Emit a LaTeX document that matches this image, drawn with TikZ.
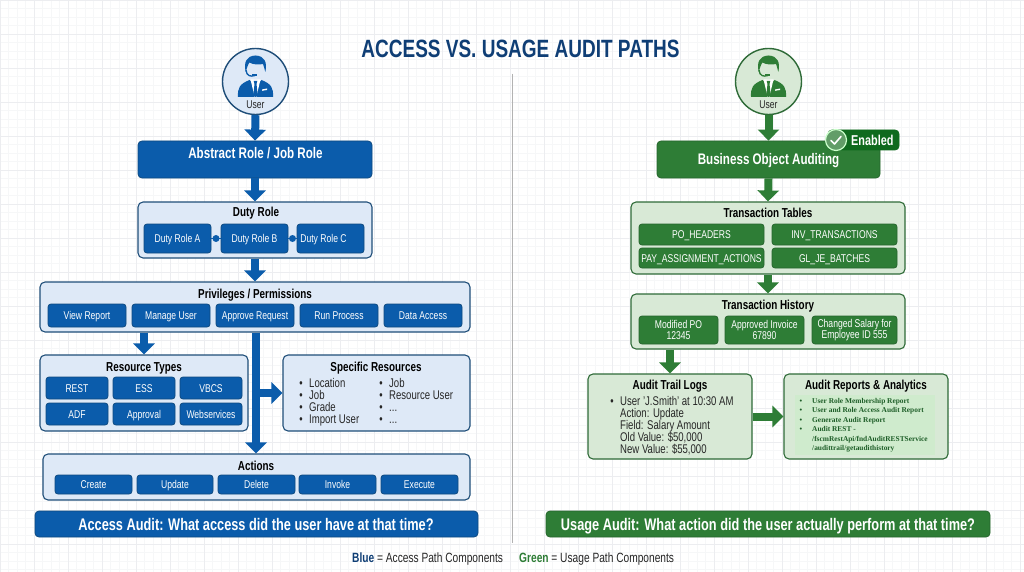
\documentclass[tikz,border=0pt]{standalone}
\usepackage{fontspec}
\setmainfont[FakeStretch=0.76]{Liberation Sans}
\newfontfamily\repfont{Liberation Serif}
\usetikzlibrary{arrows.meta,calc}
\definecolor{bluefill}{HTML}{0B5CAB}
\definecolor{blueedge}{HTML}{0E4A80}
\definecolor{bluepanel}{HTML}{DEE9F7}
\definecolor{blueline}{HTML}{1F4E79}
\definecolor{navy}{HTML}{0F3E75}
\definecolor{greenfill}{HTML}{2E7D36}
\definecolor{greenedge}{HTML}{27662E}
\definecolor{greenpanel}{HTML}{D8E9D6}
\definecolor{greenline}{HTML}{2F6B38}
\definecolor{greendark}{HTML}{0F6A1E}
\definecolor{reportbg}{HTML}{CFEBCD}
\definecolor{reporttext}{HTML}{1E5E28}
\definecolor{gridminor}{HTML}{F6F7F8}
\definecolor{gridmajor}{HTML}{ECEDF0}
\newcommand{\fs}[2]{\fontsize{#1}{#2}\selectfont}
\tikzset{
  x=1pt,y=-1pt,
  pillbase/.style={rounded corners=3pt,line width=0.8pt,inner sep=0pt,align=center,text=white,font=\fs{11.3}{11.7},text height=8.1pt,text depth=0pt},
  bluepill/.style={pillbase,fill=bluefill,draw=blueedge},
  greenpill/.style={pillbase,fill=greenfill,draw=greenedge},
  twolines/.style={text height={},text depth={}},
  bluepanelbox/.style={rounded corners=5pt,line width=1.1pt,fill=bluepanel,draw=blueline,inner sep=0pt},
  greenpanelbox/.style={rounded corners=5pt,line width=1.1pt,fill=greenpanel,draw=greenline,inner sep=0pt},
  heading/.style={font=\bfseries\fs{13}{14},text=black,inner sep=0pt,text height=9.4pt,text depth=0pt},
  bigtext/.style={font=\bfseries\fs{15.3}{17},text=white,inner sep=0pt,text height=11pt,text depth=0pt},
  bannertext/.style={font=\bfseries\fs{16.8}{18},text=white,inner sep=0pt,text height=12pt,text depth=0pt},
  listtext/.style={font=\fs{12.6}{12},text=black!85,align=left,inner sep=0pt,anchor=west},
  bluearrow/.style={line width=8pt,draw=bluefill,-{Triangle[width=21pt,length=11pt]}},
  greenarrow/.style={line width=8pt,draw=greenfill,-{Triangle[width=21pt,length=11pt]}},
  dotlink/.style={line width=1.6pt,draw=bluefill},
  linkdot/.style={circle,fill=bluefill,inner sep=0pt,minimum size=7pt},
}
% box from corners: style, name, x1, y1, x2, y2, text
\newcommand{\bx}[7]{%
  \pgfmathsetmacro{\bxw}{#5-#3}\pgfmathsetmacro{\bxh}{#6-#4}%
  \pgfmathsetmacro{\bxcx}{(#3+#5)/2}\pgfmathsetmacro{\bxcy}{(#4+#6)/2}%
  \node[#1,minimum width=\bxw pt,minimum height=\bxh pt] (#2) at (\bxcx,\bxcy) {#7};}
\newcommand{\itm}{\llap{\textbullet\hspace{6.5pt}}}
\newcommand{\usericon}[3]{% cx, main colour, panel colour
 \begin{scope}[shift={(#1,0)}]
  \fill[#2] (-17.5,97) .. controls (-18,88) and (-16,84) .. (-6,80) -- (0,86) -- (6,80) .. controls (16,84) and (18,88) .. (17.5,97) -- cycle;
  \fill[white] (-5,79.5) -- (5,79.5) -- (0.8,97) -- (-0.8,97) -- cycle;
  \fill[#2] (-1.8,81) -- (1.8,81) -- (1,84) -- (2.2,95) -- (0,97) -- (-2.2,95) -- (-1,84) -- cycle;
  \fill[white] (6.5,89.5) -- (11.5,88.5) -- (11.5,90) -- (6.5,90.8) -- cycle;
  \fill[#3] (-8,72) .. controls (-7,82) and (7,82) .. (8,72) -- (8,64) -- (-8,64) -- cycle;
  \draw[#2,line width=1.3pt] (-9.5,70) .. controls (-9,76) and (-5,77) .. (-0.5,75.5);
  \fill[#2] (-3.5,74.3) rectangle (1.5,76.3);
  \fill[#2] (-9.8,72) .. controls (-12,62) and (-9,56) .. (0,55.5) .. controls (9,56) and (12,62) .. (9.8,72)
     .. controls (8.8,69) and (8.6,66) .. (7.5,64) .. controls (3,65) and (-3,64.5) .. (-6,62.5)
     .. controls (-8,65) and (-8.8,69) .. (-9.8,72) -- cycle;
 \end{scope}}
\begin{document}
\begin{tikzpicture}
\useasboundingbox (0,0) rectangle (1024,572);
\fill[white] (0,0) rectangle (1024,572);
% graph paper
\foreach \gx in {0,8.5,...,1024} \draw[gridminor,line width=0.5pt] (\gx,0) -- (\gx,572);
\foreach \gy in {0,8.5,...,572} \draw[gridminor,line width=0.5pt] (0,\gy) -- (1024,\gy);
\foreach \gx in {0,34,...,1024} \draw[gridmajor,line width=0.5pt] (\gx,0) -- (\gx,572);
\foreach \gy in {0,34,...,572} \draw[gridmajor,line width=0.5pt] (0,\gy) -- (1024,\gy);
% title and divider
\node[font=\bfseries\fs{25}{27},text=navy,inner sep=0pt,text height=17.5pt,text depth=0pt] (title) at (520.5,48.5) {ACCESS VS. USAGE AUDIT PATHS};
\coordinate (divtop) at (512,74);
\coordinate (divbot) at (512,543);
\draw[black!30,line width=0.9pt] (divtop) -- (divbot);

% ===== LEFT: access path =====
\node[circle,draw=blueline,line width=1.4pt,fill=bluepanel,minimum size=66pt,inner sep=0pt] (userA) at (255.5,81.5) {};
\usericon{255.5}{bluefill}{bluepanel}
\node[font=\fs{11.3}{12},text=black!85,inner sep=0pt,text height=8.1pt,text depth=0pt] (userAtxt) at (255.5,104.5) {User};
\bx{bluepill,rounded corners=4pt}{abstract}{138}{141}{372}{178}{}
\node[bigtext] (abstractT) at (255.5,153) {Abstract Role / Job Role};

\bx{bluepanelbox}{duty}{138}{202}{372}{258}{}
\node[heading] (dutyT) at (256,212) {Duty Role};
\bx{bluepill}{dutyA}{144}{224}{211}{253}{Duty Role A}
\bx{bluepill}{dutyB}{221}{224}{288}{253}{Duty Role B}
\bx{bluepill}{dutyC}{297}{224}{364}{253}{\hspace*{-14pt}Duty Role C}
\draw[dotlink] (dutyA) -- (dutyB) node[midway,linkdot] (dotAB) {};
\draw[dotlink] (dutyB) -- (dutyC) node[midway,linkdot] (dotBC) {};

\bx{bluepanelbox}{priv}{40}{282}{470}{332}{}
\node[heading] (privT) at (255,294) {Privileges / Permissions};
\bx{bluepill}{pA}{48}{304}{126}{327}{View Report}
\bx{bluepill}{pB}{132}{304}{210}{327}{Manage User}
\bx{bluepill}{pC}{216}{304}{294}{327}{Approve Request}
\bx{bluepill}{pD}{300}{304}{378}{327}{Run Process}
\bx{bluepill}{pE}{384}{304}{462}{327}{Data Access}

\bx{bluepanelbox}{rtypes}{40}{355}{248}{431}{}
\node[heading] (rtypesT) at (144,367) {Resource Types};
\bx{bluepill}{r1}{46}{377}{108}{399}{REST}
\bx{bluepill}{r2}{113}{377}{175}{399}{ESS}
\bx{bluepill}{r3}{180}{377}{242}{399}{VBCS}
\bx{bluepill}{r4}{46}{403}{108}{425}{ADF}
\bx{bluepill}{r5}{113}{403}{175}{425}{Approval}
\bx{bluepill}{r6}{180}{403}{242}{425}{Webservices}

\bx{bluepanelbox}{spec}{283}{355}{470}{431}{}
\node[heading] (specT) at (376,367) {Specific Resources};
\node[listtext] (specL) at (309,402) {\itm Location\\\itm Job\\\itm Grade\\\itm Import User};
\node[listtext] (specR) at (389,402) {\itm Job\vphantom{L}\\\itm Resource User\\\itm ...\\\itm ...\vphantom{p}};

\bx{bluepanelbox}{actions}{43}{454}{470}{500}{}
\node[heading] (actionsT) at (256,466) {Actions};
\bx{bluepill}{a1}{55}{475}{132}{494}{Create}
\bx{bluepill}{a2}{137}{475}{213}{494}{Update}
\bx{bluepill}{a3}{218}{475}{295}{494}{Delete}
\bx{bluepill}{a4}{299}{475}{376}{494}{Invoke}
\bx{bluepill}{a5}{381}{475}{458}{494}{Execute}

\bx{bluepill,rounded corners=4pt}{bannerA}{35}{511}{478}{537}{}
\node[bannertext] (bannerAT) at (256,524) {Access Audit: What access did the user have at that time?};

\draw[bluearrow] (userA.south) -- (abstract.north);
\draw[bluearrow] (abstract.south) -- (duty.north);
\draw[bluearrow] (duty.south) -- (duty.south |- priv.north);
\draw[bluearrow] (rtypes.north |- priv.south) -- (rtypes.north);
\coordinate (trunk) at ($(priv.south)+(1,0)$);
\draw[bluearrow] (trunk) -- (trunk |- actions.north);
\draw[bluearrow] (trunk |- spec.west) -- (spec.west);

% ===== RIGHT: usage path =====
\node[circle,draw=greenline,line width=1.4pt,fill=greenpanel,minimum size=66pt,inner sep=0pt] (userB) at (768.5,81.5) {};
\usericon{768.5}{greenfill}{greenpanel}
\node[font=\fs{11.3}{12},text=black!85,inner sep=0pt,text height=8.1pt,text depth=0pt] (userBtxt) at (768.5,104.5) {User};
\bx{greenpill,rounded corners=4pt}{boa}{657}{141}{880}{178}{}
\node[bigtext] (boaT) at (768.5,159) {Business Object Auditing};
\bx{pillbase,fill=greendark,draw=greendark,rounded corners=4pt}{enabled}{828}{130}{899}{150}{}
\node[font=\bfseries\fs{14.3}{15},text=white,inner sep=0pt,anchor=west] (enabledT) at (851,140) {Enabled};
\node[circle,fill=greenfill!75!white,draw=white!80!green,line width=1.2pt,minimum size=21pt,inner sep=0pt] (check) at (836,140) {};
\draw[white,line width=1.6pt,line cap=round,line join=round] (831,140.5) -- (834.5,144) -- (841,136.5);

\bx{greenpanelbox}{tables}{631}{202}{905}{274}{}
\node[heading] (tablesT) at (768,213) {Transaction Tables};
\bx{greenpill}{t1}{639}{224}{764}{245}{PO\_HEADERS}
\bx{greenpill}{t2}{772}{224}{897}{245}{INV\_TRANSACTIONS}
\bx{greenpill}{t3}{639}{248}{764}{268}{PAY\_ASSIGNMENT\_ACTIONS}
\bx{greenpill}{t4}{772}{248}{897}{268}{GL\_JE\_BATCHES}

\bx{greenpanelbox}{history}{631}{294}{905}{349}{}
\node[heading] (historyT) at (768,305) {Transaction History};
\bx{greenpill,twolines}{h1}{639}{316}{718}{344}{Modified PO\\12345}
\bx{greenpill,twolines}{h2}{725}{316}{804}{344}{Approved Invoice\\67890}
\bx{greenpill,twolines}{h3}{812}{316}{897}{344}{Changed Salary for\\Employee ID 555}

\bx{greenpanelbox}{trail}{588}{374}{752}{459}{}
\node[heading] (trailT) at (670,385) {Audit Trail Logs};
\node[listtext] (trailL) at (620,426) {\itm User 'J.Smith' at 10:30 AM\\Action: Update\\Field: Salary Amount\\Old Value: \$50,000\\New Value: \$55,000};

\bx{greenpanelbox}{reports}{784}{374}{948}{459}{}
\node[heading] (reportsT) at (866,385) {Audit Reports \& Analytics};
\node[fill=reportbg,minimum width=140pt,minimum height=60pt,inner sep=0pt] (reportsBg) at (865,425) {};
\node[anchor=west,align=left,inner sep=0pt,text=reporttext,font=\repfont\bfseries\fontsize{7.4}{9.5}\selectfont] (reportsL) at (812,425)
 {\llap{\textbullet\hspace{10pt}}User Role Membership Report\\\llap{\textbullet\hspace{10pt}}User and Role Access Audit Report\\\llap{\textbullet\hspace{10pt}}Generate Audit Report\\\llap{\textbullet\hspace{10pt}}Audit REST -\\/fscmRestApi/fndAuditRESTService\\/audittrail/getaudithistory};

\bx{greenpill,rounded corners=4pt}{bannerB}{546}{511}{990}{537}{}
\node[bannertext] (bannerBT) at (768,524) {Usage Audit: What action did the user actually perform at that time?};

\draw[greenarrow] (userB.south) -- (boa.north);
\draw[greenarrow] (boa.south) -- (tables.north);
\draw[greenarrow] (tables.south) -- (history.north);
\draw[greenarrow] (trail.north |- history.south) -- (trail.north);
\draw[greenarrow] (trail.east) -- (reports.west);

% legend
\node[anchor=west,inner sep=0pt,font=\fs{13.4}{14},text=black!85] (legA) at (352,559) {{\bfseries\color{navy}Blue} = Access Path Components};
\node[anchor=west,inner sep=0pt,font=\fs{13.4}{14},text=black!85] (legB) at (519,559) {{\bfseries\color{greenfill}Green} = Usage Path Components};
\end{tikzpicture}
\end{document}
